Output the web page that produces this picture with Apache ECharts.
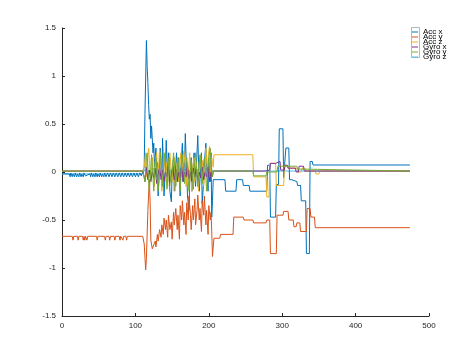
<!DOCTYPE html>
<html><head><meta charset="utf-8">
<script src="https://cdn.jsdelivr.net/npm/echarts@6/dist/echarts.min.js"></script>
<style>html,body{margin:0;padding:0;background:#fff}#c{width:474px;height:355px}</style>
</head><body><div id="c"></div>
<script>
const seriesNames = ['Acc x','Acc y','Acc z','Gyro x','Gyro y','Gyro z'];
const xTicks = [0,100,200,300,400,500];
const yTicks = [-1.5,-1,-0.5,0,0.5,1,1.5];

const accX = [[0,-0.02],[10,-0.02],[11,-0.05],[12,-0.01],[14,-0.05],[15,-0.02],[17,-0.05],[18,-0.01],[20,-0.05],[21,-0.02],[23,-0.05],[24,-0.01],[26,-0.05],[27,-0.02],[29,-0.05],[30,-0.01],[32,-0.04],[33,-0.02],[38,-0.02],[39,-0.05],[40,-0.01],[42,-0.05],[43,-0.02],[45,-0.05],[46,-0.01],[48,-0.05],[49,-0.02],[51,-0.05],[52,-0.01],[54,-0.05],[55,-0.02],[57,-0.05],[58,-0.01],[60,-0.05],[62,-0.01],[64,-0.05],[66,-0.01],[68,-0.05],[70,-0.01],[72,-0.05],[74,-0.01],[76,-0.05],[78,-0.01],[80,-0.05],[82,-0.01],[84,-0.05],[86,-0.01],[88,-0.05],[90,-0.01],[92,-0.05],[94,-0.01],[96,-0.05],[98,-0.01],[100,-0.05],[102,-0.01],[104,-0.05],[106,-0.01],[108,-0.04],[110,-0.02],
[112,0.05],[113,0.6],[115,1.37],[116,1.1],[117,0.93],[118,0.7],[119,0.55],[120,0.6],[121,0.35],[122,0.48],[124,0.2],[125,0.3],[126,0.05],[128,0.25],[129,-0.05],[130,0.1],[131,-0.25],[133,0.05],[134,0.25],[136,-0.15],[137,0.35],[138,0.1],[139,-0.25],[141,0.05],[142,0.33],[144,-0.1],[145,0.2],[147,-0.2],[149,-0.31],[150,0.0],[152,0.15],[153,-0.2],[155,0.08],[156,0.2],[158,-0.1],[159,0.15],[161,-0.25],[162,0.05],[164,0.3],[165,-0.1],[167,0.1],[168,0.4],[170,-0.05],[171,-0.25],[173,-0.4],[174,-0.1],[176,0.15],[177,-0.2],[179,0.1],[180,0.2],[182,-0.15],[183,0.05],[185,0.38],[186,0.1],[187,-0.2],[189,0.05],[190,0.2],[191,-0.33],[193,-0.1],[194,0.1],[196,0.3],[197,0.05],[199,-0.2],[200,0.15],[202,-0.1],[203,0.2],[204,-0.47],[205,-0.3],[206,-0.08],
[222,-0.08],[223,-0.2],[237,-0.2],[238,-0.08],[246,-0.08],[247,-0.14],[255,-0.14],[256,-0.2],[279,-0.2],[280,0.07],[283,0.07],[284,-0.47],[291,-0.47],[292,-0.13],[295,-0.13],[296,0.45],[301,0.45],[302,-0.06],[304,-0.06],[305,0.25],[309,0.25],[310,-0.08],[313,-0.08],[314,-0.1],[320,-0.1],[321,-0.14],[325,-0.14],[326,-0.3],[332,-0.3],[333,-0.85],[337,-0.85],[338,0.11],[341,0.11],[342,0.073],[474,0.073]];

const accY = [[0,-0.67],[14,-0.67],[15,-0.71],[16,-0.67],[21,-0.67],[22,-0.71],[23,-0.67],[28,-0.67],[29,-0.71],[30,-0.67],[31,-0.71],[32,-0.67],[33,-0.67],[34,-0.71],[35,-0.67],[47,-0.67],[48,-0.71],[49,-0.67],[58,-0.67],[59,-0.71],[60,-0.67],[64,-0.67],[65,-0.71],[66,-0.67],[71,-0.67],[72,-0.71],[73,-0.67],[78,-0.67],[79,-0.71],[80,-0.67],[82,-0.67],[83,-0.71],[84,-0.67],[87,-0.67],[88,-0.71],[89,-0.67],[110,-0.67],
[112,-0.75],[114,-1.02],[115,-0.9],[117,-0.4],[119,-0.08],[120,-0.3],[121,-0.71],[123,-0.8],[125,-0.82],[127,-0.72],[128,-0.78],[130,-0.65],[131,-0.72],[133,-0.6],[135,-0.68],[136,-0.55],[138,-0.65],[139,-0.48],[141,-0.6],[142,-0.5],[144,-0.68],[145,-0.45],[147,-0.6],[149,-0.52],[150,-0.7],[152,-0.42],[153,-0.55],[155,-0.38],[157,-0.6],[158,-0.45],[160,-0.7],[161,-0.35],[163,-0.5],[164,-0.3],[166,-0.55],[167,-0.42],[169,-0.65],[170,-0.32],[172,-0.5],[173,-0.25],[175,-0.45],[176,-0.6],[178,-0.35],[179,-0.5],[181,-0.28],[182,-0.55],[184,-0.4],[185,-0.24],[187,-0.5],[188,-0.38],[190,-0.62],[191,-0.3],[193,-0.45],[194,-0.25],[196,-0.55],[197,-0.4],[199,-0.65],[200,-0.35],[202,-0.5],[203,-0.42],[204,-0.62],[205,-0.88],[206,-0.88],
[207,-0.69],[215,-0.69],[216,-0.65],[233,-0.65],[234,-0.47],[247,-0.47],[248,-0.5],[260,-0.5],[261,-0.53],[278,-0.53],[279,-0.5],[283,-0.5],[284,-0.85],[292,-0.85],[293,-0.45],[301,-0.45],[302,-0.41],[308,-0.41],[309,-0.5],[315,-0.5],[316,-0.57],[319,-0.57],[320,-0.53],[324,-0.53],[325,-0.62],[333,-0.62],[334,-0.38],[338,-0.38],[339,-0.47],[344,-0.47],[345,-0.58],[474,-0.58]];

const accZ = [[0,0.01],[110,0.01],[112,0.05],[114,0.2],[115,-0.05],[117,0.15],[118,0.25],[120,0.0],[121,-0.1],[123,0.15],[124,0.05],[126,-0.15],[127,0.1],[129,0.2],[130,-0.05],[132,0.1],[133,0.25],[135,0.05],[136,-0.2],[138,0.0],[139,0.15],[141,-0.05],[142,0.1],[144,-0.15],[145,0.05],[147,0.2],[148,0.1],[150,-0.1],[151,0.05],[153,0.15],[154,-0.2],[156,0.0],[157,0.1],[159,-0.1],[160,0.05],[162,0.2],[163,-0.05],[165,0.15],[166,0.22],[168,0.05],[169,-0.15],[171,0.1],[172,-0.05],[174,0.2],[175,0.0],[177,-0.2],[178,0.05],[180,0.15],[181,-0.1],[183,0.1],[184,0.0],[186,-0.2],[187,0.1],[189,0.18],[190,-0.05],[192,0.12],[193,-0.15],[195,0.05],[196,0.25],[198,0.0],[199,0.15],[201,0.27],[202,-0.05],[204,0.15],[205,0.1],[206,0.05],
[207,0.18],[260,0.18],[261,-0.05],[278,-0.05],[279,-0.26],[282,-0.26],[283,0.09],[291,0.09],[292,-0.14],[302,-0.14],[303,0.07],[307,0.07],[308,0.04],[320,0.04],[321,0.0],[326,0.0],[327,0.04],[331,0.04],[332,0.01],[345,0.01],[346,-0.02],[350,-0.02],[351,0.01],[474,0.01]];

const gyroX = [[0,0.01],[110,0.01],[112,-0.05],[113,-0.1],[115,0.05],[117,-0.08],[119,0.02],[121,-0.1],[123,0.0],[125,-0.06],[127,0.04],[129,-0.12],[131,-0.02],[133,0.05],[135,-0.08],[137,0.02],[139,-0.1],[141,0.0],[143,-0.05],[145,0.06],[147,-0.1],[149,-0.02],[151,0.05],[153,-0.08],[155,0.03],[157,-0.1],[159,0.0],[161,-0.06],[163,0.05],[165,-0.1],[167,0.0],[169,-0.05],[171,0.06],[173,-0.08],[175,0.0],[177,-0.1],[179,0.04],[181,-0.05],[183,0.05],[185,-0.1],[187,0.0],[189,-0.06],[191,0.05],[193,-0.08],[195,0.0],[197,-0.05],[199,0.05],[201,-0.1],[203,0.0],[205,-0.05],[206,0.01],
[277,0.01],[278,0.02],[283,0.02],[284,0.09],[291,0.09],[292,0.11],[297,0.11],[298,0.02],[303,0.02],[304,0.07],[307,0.07],[308,0.04],[318,0.04],[319,0.0],[322,0.0],[323,0.06],[329,0.06],[330,0.01],[474,0.01]];

const gyroY = [[0,0.01],[110,0.01],[112,0.0],[113,-0.1],[115,0.15],[116,0.2],[118,-0.1],[119,-0.2],[121,0.05],[122,0.18],[124,-0.05],[125,-0.2],[127,0.1],[128,0.15],[130,-0.1],[131,-0.2],[133,0.05],[134,0.2],[136,0.0],[137,-0.15],[139,0.1],[140,0.2],[142,-0.05],[143,-0.18],[145,0.05],[146,0.15],[148,-0.1],[149,-0.15],[151,0.1],[152,0.2],[154,0.0],[155,-0.15],[157,0.05],[158,0.15],[160,-0.05],[161,-0.2],[163,0.1],[164,0.18],[166,0.0],[167,-0.12],[169,0.1],[170,0.15],[172,-0.08],[173,-0.2],[175,0.05],[176,0.12],[178,-0.05],[179,-0.18],[181,0.1],[182,0.2],[184,-0.05],[185,-0.15],[187,0.08],[188,0.18],[190,0.0],[191,-0.12],[193,0.1],[194,0.15],[196,-0.05],[197,-0.2],[199,0.05],[200,0.15],[202,0.25],[203,0.1],[205,-0.05],[206,0.01],
[260,0.01],[261,-0.04],[278,-0.04],[279,0.0],[293,0.0],[294,0.06],[320,0.06],[321,0.03],[330,0.03],[331,0.01],[474,0.01]];

const gyroZ = [[0,-0.02],[110,-0.02],[113,0.03],[116,-0.04],[119,0.02],[122,-0.03],[125,0.04],[128,-0.02],[131,0.03],[134,-0.04],[137,0.02],[140,-0.03],[143,0.04],[146,-0.02],[149,0.03],[152,-0.04],[155,0.02],[158,-0.03],[161,0.04],[164,-0.02],[167,0.03],[170,-0.04],[173,0.02],[176,-0.03],[179,0.04],[182,-0.02],[185,0.03],[188,-0.04],[191,0.02],[194,-0.03],[197,0.04],[200,-0.02],[203,0.03],[206,0.01],[474,0.01]];

const seriesData = [accX, accY, accZ, gyroX, gyroY, gyroZ];
const colors = ['#0072BD','#D95319','#EDB120','#7E2F8E','#77AC30','#4DBEEE'];

const chart = echarts.init(document.getElementById('c'), null, {renderer:'canvas'});
const axisCol = '#262626';
const font = 'Liberation Sans, Arial, sans-serif';
chart.setOption({
  animation: false,
  backgroundColor: '#ffffff',
  color: colors,
  grid: {left: 62, right: 45, top: 28, bottom: 39, containLabel: false},
  xAxis: {
    type: 'value', min: xTicks[0], max: xTicks[xTicks.length-1], interval: 100,
    axisLine: {show: true, onZero: false, lineStyle: {color: axisCol, width: 1}},
    axisTick: {show: true, inside: true, length: 3, lineStyle: {color: axisCol}},
    splitLine: {show: false},
    axisLabel: {fontSize: 8, color: axisCol, margin: 6, fontFamily: font}
  },
  yAxis: {
    type: 'value', min: yTicks[0], max: yTicks[yTicks.length-1], interval: 0.5,
    axisLine: {show: true, onZero: false, lineStyle: {color: axisCol, width: 1}},
    axisTick: {show: true, inside: true, length: 3, lineStyle: {color: axisCol}},
    splitLine: {show: false},
    axisLabel: {fontSize: 8, color: axisCol, margin: 6, fontFamily: font}
  },
  legend: {
    data: seriesNames.map(n => ({name: n, icon: 'rect'})), orient: 'vertical', left: 412, top: 28,
    itemWidth: 6, itemHeight: 1, itemGap: -3, padding: 0,
    textStyle: {fontSize: 8, lineHeight: 8, color: '#000', fontFamily: font, padding: 0}
  },
  graphic: [{type: 'rect', shape: {x: 411.5, y: 27.5, width: 8, height: 30}, style: {fill: 'none', stroke: '#9aa6b8', lineWidth: 0.8}, silent: true}],
  series: seriesNames.map((n, i) => ({
    name: n, type: 'line', data: seriesData[i], showSymbol: false, symbol: 'none',
    lineStyle: {width: 1}, z: (i === 5 ? 1 : 2 + i)
  }))
});
</script></body></html>
